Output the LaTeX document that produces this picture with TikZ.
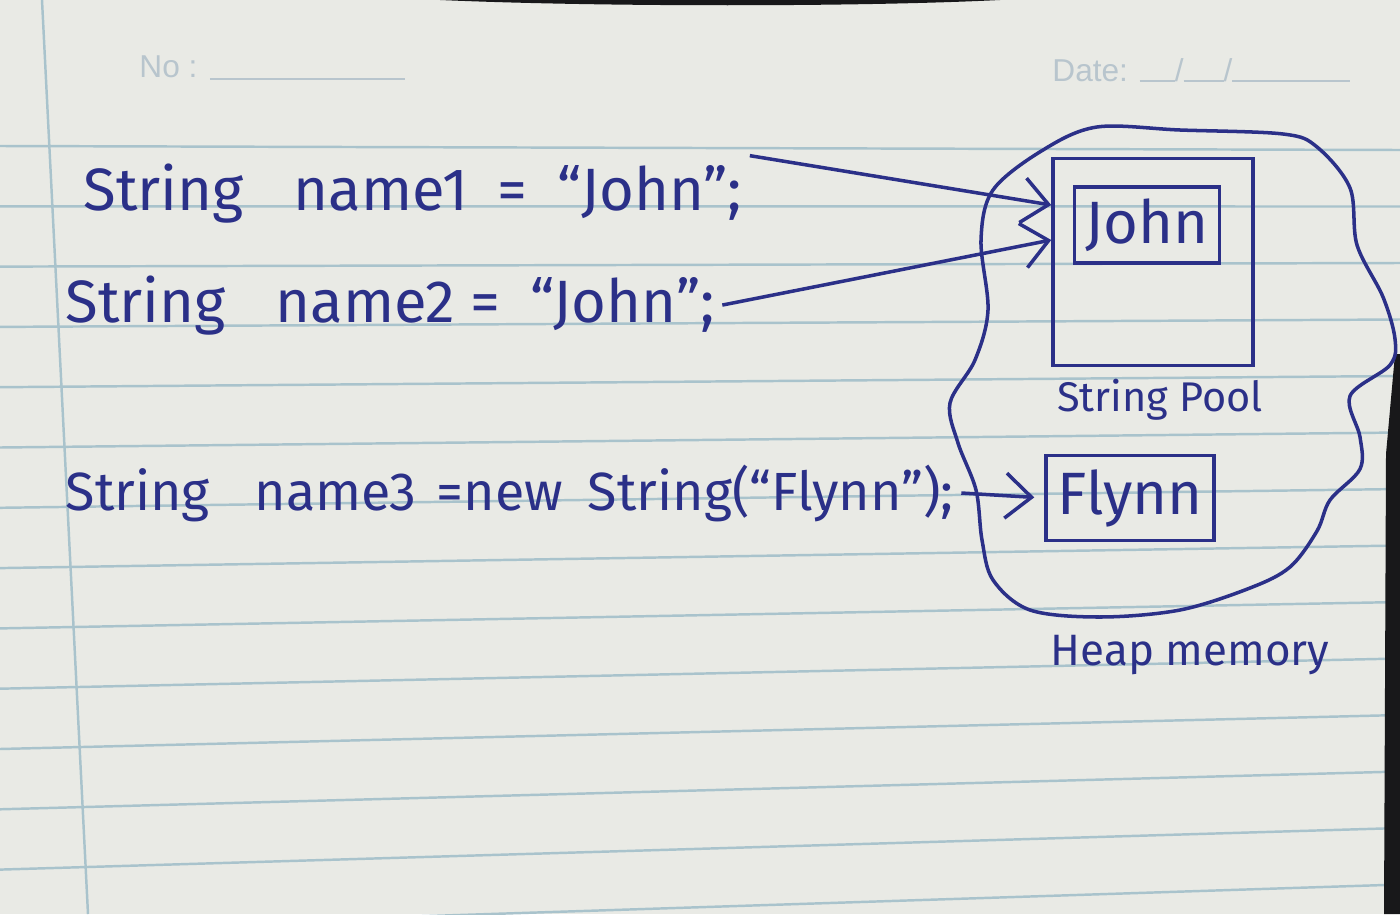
\documentclass[tikz,border=0pt]{standalone}
\usepackage{fontspec}
\setmainfont{Fira Sans}
\newfontfamily\printfont{Liberation Sans}
\usetikzlibrary{positioning, arrows.meta, calc}
\definecolor{ink}{HTML}{2B3088}
\definecolor{paper}{HTML}{E9EAE5}
\definecolor{ruling}{HTML}{A9C3CC}
\definecolor{printed}{HTML}{B8C5CD}
\definecolor{darkedge}{HTML}{18181A}

\begin{document}
\begin{tikzpicture}[font=\fontsize{17}{20}\selectfont,
		pen/.style={draw=ink, line width=1pt},
		box/.style={pen, inner sep=0pt},
		hand/.style={text=ink, anchor=base west, inner sep=2pt},
		ptr/.style={pen, -{Straight Barb[length=2.6mm, width=4.5mm]}}]
	\useasboundingbox (0,0) rectangle (14,9.14);
	\fill[paper] (0,0) rectangle (14,9.14);
	\begin{scope}
		\clip (0,0) rectangle (14,9.14);
		\foreach \i in {0,...,13}
			\draw[ruling, line width=0.7pt] (0,{7.68-0.603*\i}) -- (14,{7.64-0.565*\i});
		\draw[ruling, line width=0.7pt] (0.42,9.14) -- (0.88,0);
	\end{scope}
	\fill[darkedge] (4.4,9.14) .. controls (6,9.07) and (8.6,9.07) .. (10,9.14) -- cycle;
	\fill[darkedge] (13.95,5.6) -- (14,5.6) -- (14,0) -- (13.84,0) -- (13.86,4.6) -- cycle;
	\node[text=printed, anchor=base west, font=\printfont\fontsize{9}{11}\selectfont] (numero) at (1.27,8.37) {No :};
	\draw[printed, line width=0.6pt] (numero.base east) ++(0,-0.02) -- ++(1.95,0);
	\node[text=printed, anchor=base west, font=\printfont\fontsize{9}{11}\selectfont] (fecha) at (10.4,8.32)
		{Date: \rule{0.35cm}{0.5pt}/\rule{0.4cm}{0.5pt}/\rule{1.18cm}{0.5pt}};
	\node[hand] (nombre1) at (0.76,7.04) {String\hspace{0.5cm}name1\hspace{0.3cm}=\hspace{0.3cm}“John”;};
	\node[hand] (nombre2) at (0.58,5.92) {String\hspace{0.5cm}name2\hspace{0.15cm}=\hspace{0.3cm}“John”;};
	\node[hand, font=\fontsize{15.3}{18}\selectfont] (nombre3) at (0.58,4.04)
		{String\hspace{0.45cm}name3\hspace{0.2cm}=new\hspace{0.25cm}String(“Flynn”);};
	\node[box, minimum width=2cm, minimum height=2.07cm] (pool) at (11.53,6.52) {};
	\node[box, text=ink, minimum width=1.45cm, minimum height=0.76cm] (john) at (11.47,6.89) {John};
	\node[text=ink, font=\fontsize{11.8}{14}\selectfont] (poollabel) at (11.6,5.14) {String Pool};
	\node[box, text=ink, minimum width=1.68cm, minimum height=0.85cm] (flynn) at (11.3,4.16) {Flynn};
	\node[text=ink, font=\fontsize{12.5}{15}\selectfont] (heaplabel) at (11.9,2.59) {Heap memory};
	\draw[pen] plot[smooth cycle, tension=0.55] coordinates {(10.97,7.87) (11.80,7.84) (12.83,7.80) (13.17,7.67)
		(13.50,7.26) (13.57,6.69) (13.83,6.17) (13.95,5.75) (13.90,5.49) (13.50,5.18) (13.60,4.77) (13.60,4.45)
		(13.30,4.14) (13.17,3.83) (12.90,3.47) (12.50,3.26) (11.80,3.04) (11.00,2.97) (10.30,3.04) (9.93,3.34)
		(9.82,3.74) (9.76,4.24) (9.58,4.71) (9.50,5.11) (9.75,5.54) (9.88,6.04) (9.81,6.74) (9.93,7.24) (10.43,7.64)};
	\draw[ptr] (nombre1.north east) -- ([yshift=5.7mm]pool.west);
	\draw[ptr] (nombre2.east) -- ([yshift=2.2mm]pool.west);
	\draw[ptr, shorten >=1mm] (nombre3.east) -- (flynn.west);
\end{tikzpicture}
\end{document}
